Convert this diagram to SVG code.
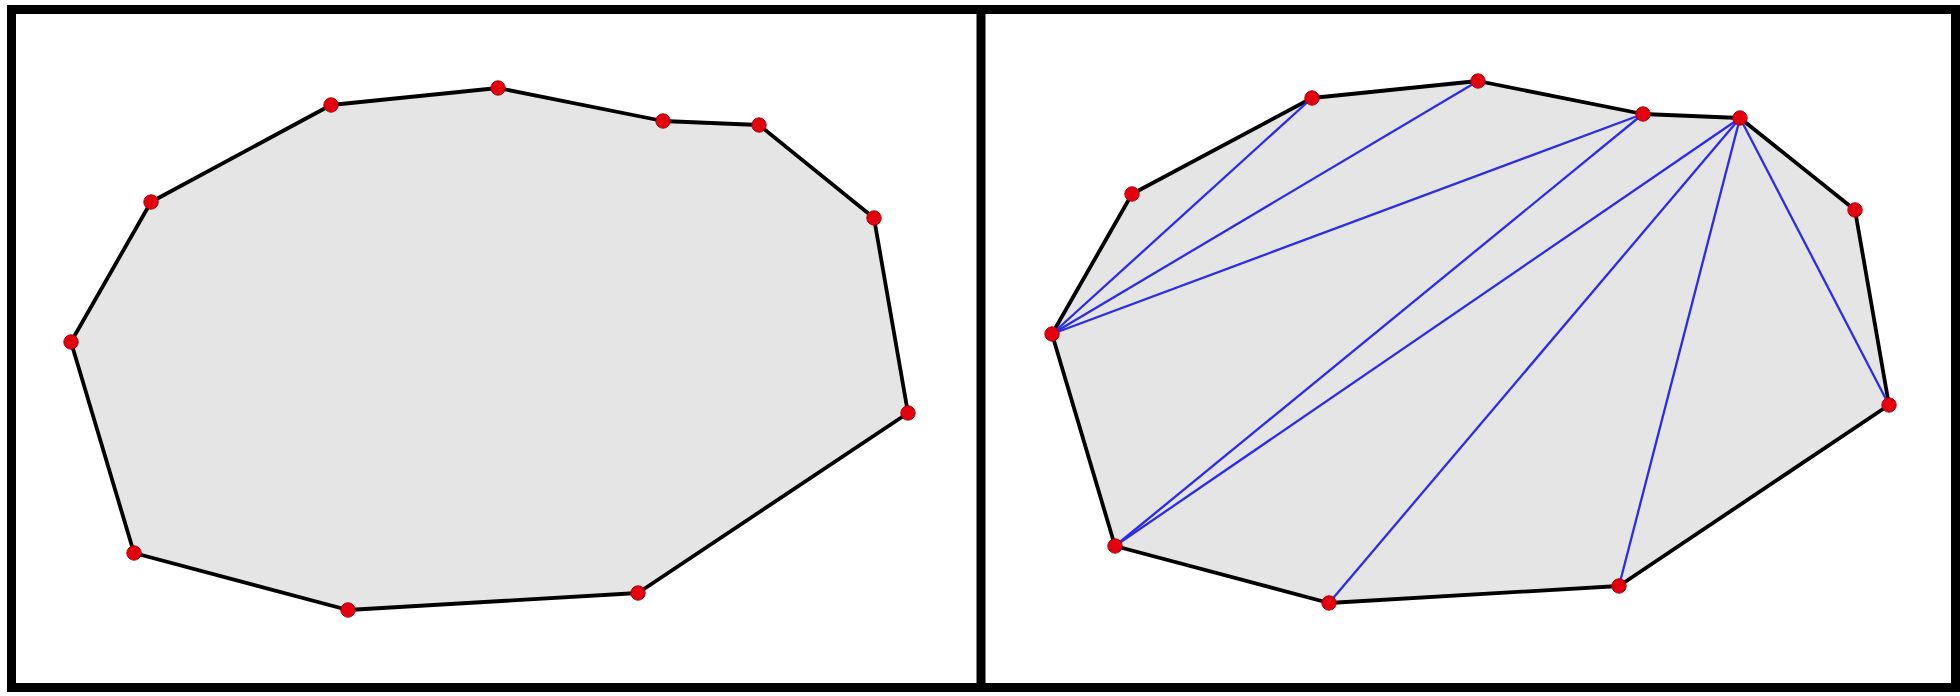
<svg xmlns="http://www.w3.org/2000/svg" width="1960" height="696" viewBox="0 0 1960 696">
<style>
.frame{fill:none;stroke:#000;stroke-width:9}
.poly{fill:#e5e5e5;stroke:#000;stroke-width:3.8;stroke-linejoin:round}
.diag{stroke:#2b2be8;stroke-width:2.3;fill:none}
.pt{fill:#e3000f;stroke:#b00000;stroke-width:1}
</style>
<rect width="1960" height="696" fill="#fff"/>
<g id="frame">
<rect class="frame" x="11.5" y="9.5" width="1944" height="678"/>
<line class="frame" x1="981" y1="9.5" x2="981" y2="687.5"/>
</g>
<g id="left-polygon">
<polygon class="poly" points="498,88 663,121 759,125 874,218 908,413 638,593 348,610 134,553 71,342 151,202 331,105"/>
</g>
<g id="right-polygon">
<polygon class="poly" points="1478,81 1643,114 1740,118 1855,210 1889,405 1619,586 1329,603 1115,546 1052,334 1132,194 1312,98"/>
</g>
<g id="connectors">
<line class="diag" x1="1052" y1="334" x2="1312" y2="98"/>
<line class="diag" x1="1052" y1="334" x2="1478" y2="81"/>
<line class="diag" x1="1052" y1="334" x2="1643" y2="114"/>
<line class="diag" x1="1115" y1="546" x2="1643" y2="114"/>
<line class="diag" x1="1115" y1="546" x2="1740" y2="118"/>
<line class="diag" x1="1740" y1="118" x2="1329" y2="603"/>
<line class="diag" x1="1740" y1="118" x2="1619" y2="586"/>
<line class="diag" x1="1740" y1="118" x2="1889" y2="405"/>
</g>
<g id="left-points">
<circle class="pt" cx="498" cy="88" r="7.2"/>
<circle class="pt" cx="663" cy="121" r="7.2"/>
<circle class="pt" cx="759" cy="125" r="7.2"/>
<circle class="pt" cx="874" cy="218" r="7.2"/>
<circle class="pt" cx="908" cy="413" r="7.2"/>
<circle class="pt" cx="638" cy="593" r="7.2"/>
<circle class="pt" cx="348" cy="610" r="7.2"/>
<circle class="pt" cx="134" cy="553" r="7.2"/>
<circle class="pt" cx="71" cy="342" r="7.2"/>
<circle class="pt" cx="151" cy="202" r="7.2"/>
<circle class="pt" cx="331" cy="105" r="7.2"/>
</g>
<g id="right-points">
<circle class="pt" cx="1478" cy="81" r="7.2"/>
<circle class="pt" cx="1643" cy="114" r="7.2"/>
<circle class="pt" cx="1740" cy="118" r="7.2"/>
<circle class="pt" cx="1855" cy="210" r="7.2"/>
<circle class="pt" cx="1889" cy="405" r="7.2"/>
<circle class="pt" cx="1619" cy="586" r="7.2"/>
<circle class="pt" cx="1329" cy="603" r="7.2"/>
<circle class="pt" cx="1115" cy="546" r="7.2"/>
<circle class="pt" cx="1052" cy="334" r="7.2"/>
<circle class="pt" cx="1132" cy="194" r="7.2"/>
<circle class="pt" cx="1312" cy="98" r="7.2"/>
</g>
</svg>
